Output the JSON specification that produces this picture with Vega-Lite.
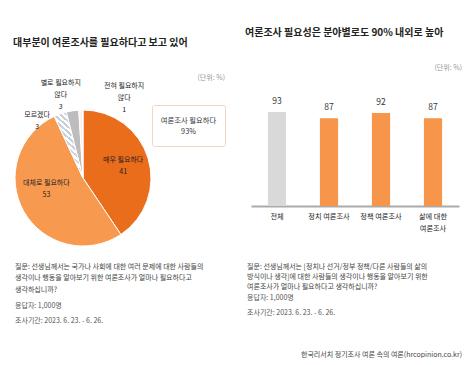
{
  "$schema": "https://vega.github.io/schema/vega-lite/v6.json",
  "background": "white",
  "padding": {"left": 13, "top": 28, "right": 0, "bottom": 0},
  "config": {
    "font": "Noto Sans CJK KR",
    "view": {"stroke": null},
    "title": {"font": "Noto Sans CJK KR", "subtitleFont": "Noto Sans CJK KR"}
  },
  "title": {"text": "한국리서치 정기조사 여론 속의 여론(hrcopinion.co.kr)", "orient": "bottom", "anchor": "end", "fontSize": 7, "fontWeight": "normal", "color": "#444", "offset": 16},
  "spacing": 19,
  "hconcat": [
    {
      "title": {"text": "대부분이 여론조사를 필요하다고 보고 있어", "anchor": "start", "fontSize": 10, "fontWeight": "bold", "color": "#222", "offset": 26},
      "spacing": 11,
      "vconcat": [
        {
          "spacing": 1,
          "bounds": "flush",
          "hconcat": [
            {
              "width": 136,
              "height": 146,
              "data": {"values": [
                {"cat": "매우 필요하다", "value": 41, "order": 1, "label": "매우 필요하다\n41", "line1": "매우 필요하다", "line2": "41", "line3": ""},
                {"cat": "대체로 필요하다", "value": 53, "order": 2, "label": "대체로 필요하다\n53", "line1": "대체로 필요하다", "line2": "53", "line3": ""},
                {"cat": "모르겠다", "value": 3, "order": 3, "label": "모르겠다\n3", "line1": "모르겠다", "line2": "3", "line3": ""},
                {"cat": "별로 필요하지 않다", "value": 3, "order": 4, "label": "별로 필요하지\n않다\n3", "line1": "별로 필요하지", "line2": "않다", "line3": "3"},
                {"cat": "전혀 필요하지 않다", "value": 1, "order": 5, "label": "전혀 필요하지\n않다\n1", "line1": "전혀 필요하지", "line2": "않다", "line3": "1"}
              ]},
              "layer": [
                {
                  "mark": {"type": "arc", "outerRadius": 68, "stroke": "white", "strokeWidth": 1},
                  "encoding": {
                    "theta": {"field": "value", "type": "quantitative", "stack": true, "scale": {"domain": [0, 101]}},
                    "order": {"field": "order", "type": "quantitative"},
                    "color": {"field": "cat", "type": "nominal", "legend": null,
                      "scale": {"domain": ["매우 필요하다", "대체로 필요하다", "모르겠다", "별로 필요하지 않다", "전혀 필요하지 않다"],
                                "range": ["#ea6d1c", "#f79a50", "#e1e5ea", "#bdbdbd", "#f4f4f4"]}}
                  }
                },
                {
                  "mark": {"type": "arc", "outerRadius": 68, "stroke": "white", "strokeWidth": 1,
                    "fill": {"gradient": "linear", "x1": 0, "y1": 1, "x2": 0.38, "y2": 0, "stops": [
                      {"offset": 0, "color": "#ffffff"}, {"offset": 0.0357, "color": "#ffffff"}, {"offset": 0.0357, "color": "#c9d0d9"}, {"offset": 0.0714, "color": "#c9d0d9"},
                      {"offset": 0.0714, "color": "#ffffff"}, {"offset": 0.1071, "color": "#ffffff"}, {"offset": 0.1071, "color": "#c9d0d9"}, {"offset": 0.1429, "color": "#c9d0d9"},
                      {"offset": 0.1429, "color": "#ffffff"}, {"offset": 0.1786, "color": "#ffffff"}, {"offset": 0.1786, "color": "#c9d0d9"}, {"offset": 0.2143, "color": "#c9d0d9"},
                      {"offset": 0.2143, "color": "#ffffff"}, {"offset": 0.25, "color": "#ffffff"}, {"offset": 0.25, "color": "#c9d0d9"}, {"offset": 0.2857, "color": "#c9d0d9"},
                      {"offset": 0.2857, "color": "#ffffff"}, {"offset": 0.3214, "color": "#ffffff"}, {"offset": 0.3214, "color": "#c9d0d9"}, {"offset": 0.3571, "color": "#c9d0d9"},
                      {"offset": 0.3571, "color": "#ffffff"}, {"offset": 0.3929, "color": "#ffffff"}, {"offset": 0.3929, "color": "#c9d0d9"}, {"offset": 0.4286, "color": "#c9d0d9"},
                      {"offset": 0.4286, "color": "#ffffff"}, {"offset": 0.4643, "color": "#ffffff"}, {"offset": 0.4643, "color": "#c9d0d9"}, {"offset": 0.5, "color": "#c9d0d9"},
                      {"offset": 0.5, "color": "#ffffff"}, {"offset": 0.5357, "color": "#ffffff"}, {"offset": 0.5357, "color": "#c9d0d9"}, {"offset": 0.5714, "color": "#c9d0d9"},
                      {"offset": 0.5714, "color": "#ffffff"}, {"offset": 0.6071, "color": "#ffffff"}, {"offset": 0.6071, "color": "#c9d0d9"}, {"offset": 0.6429, "color": "#c9d0d9"},
                      {"offset": 0.6429, "color": "#ffffff"}, {"offset": 0.6786, "color": "#ffffff"}, {"offset": 0.6786, "color": "#c9d0d9"}, {"offset": 0.7143, "color": "#c9d0d9"},
                      {"offset": 0.7143, "color": "#ffffff"}, {"offset": 0.75, "color": "#ffffff"}, {"offset": 0.75, "color": "#c9d0d9"}, {"offset": 0.7857, "color": "#c9d0d9"},
                      {"offset": 0.7857, "color": "#ffffff"}, {"offset": 0.8214, "color": "#ffffff"}, {"offset": 0.8214, "color": "#c9d0d9"}, {"offset": 0.8571, "color": "#c9d0d9"},
                      {"offset": 0.8571, "color": "#ffffff"}, {"offset": 0.8929, "color": "#ffffff"}, {"offset": 0.8929, "color": "#c9d0d9"}, {"offset": 0.9286, "color": "#c9d0d9"},
                      {"offset": 0.9286, "color": "#ffffff"}, {"offset": 0.9643, "color": "#ffffff"}, {"offset": 0.9643, "color": "#c9d0d9"}, {"offset": 1, "color": "#c9d0d9"}
                    ]}},
                  "encoding": {
                    "theta": {"field": "value", "type": "quantitative", "stack": true, "scale": {"domain": [0, 101]}},
                    "order": {"field": "order", "type": "quantitative"},
                    "opacity": {"condition": {"test": "datum.cat === '모르겠다'", "value": 1}, "value": 0}
                  }
                },
                {
                  "mark": {"type": "text", "radius": 42, "dy": -6, "fontSize": 7, "lineBreak": "\n", "lineHeight": 12, "fill": "#222"},
                  "encoding": {
                    "theta": {"field": "value", "type": "quantitative", "stack": true, "scale": {"domain": [0, 101]}},
                    "order": {"field": "order", "type": "quantitative"},
                    "text": {"field": "label", "type": "nominal", "condition": {"test": "datum.cat !== '매우 필요하다'", "value": ""}}
                  }
                },
                {
                  "mark": {"type": "text", "radius": 42, "dy": -16, "fontSize": 7, "lineBreak": "\n", "lineHeight": 12, "fill": "#222"},
                  "encoding": {
                    "theta": {"field": "value", "type": "quantitative", "stack": true, "scale": {"domain": [0, 101]}},
                    "order": {"field": "order", "type": "quantitative"},
                    "text": {"field": "label", "type": "nominal", "condition": {"test": "datum.cat !== '대체로 필요하다'", "value": ""}}
                  }
                },
                {
                  "transform": [
                    {"stack": "value", "groupby": [], "sort": [{"field": "order", "order": "ascending"}], "as": ["v0", "v1"]},
                    {"filter": "datum.cat === '모르겠다'"}
                  ],
                  "encoding": {"theta": {"field": "v0", "type": "quantitative", "scale": {"domain": [0, 101]}}},
                  "layer": [
                    {"mark": {"type": "text", "radius": 78, "dx": -13, "dy": 8, "fontSize": 7, "fill": "#222"}, "encoding": {"text": {"field": "line1", "type": "nominal"}}},
                    {"mark": {"type": "text", "radius": 78, "dx": -13, "dy": 20, "fontSize": 7, "fill": "#222"}, "encoding": {"text": {"field": "line2", "type": "nominal"}}}
                  ]
                },
                {
                  "transform": [
                    {"stack": "value", "groupby": [], "sort": [{"field": "order", "order": "ascending"}], "as": ["v0", "v1"]},
                    {"filter": "datum.cat === '별로 필요하지 않다'"}
                  ],
                  "encoding": {"theta": {"field": "v0", "type": "quantitative", "scale": {"domain": [0, 101]}}},
                  "layer": [
                    {"mark": {"type": "text", "radius": 78, "dx": -3, "dy": -19, "fontSize": 7, "fill": "#222"}, "encoding": {"text": {"field": "line1", "type": "nominal"}}},
                    {"mark": {"type": "text", "radius": 78, "dx": -3, "dy": -7, "fontSize": 7, "fill": "#222"}, "encoding": {"text": {"field": "line2", "type": "nominal"}}},
                    {"mark": {"type": "text", "radius": 78, "dx": -3, "dy": 5, "fontSize": 7, "fill": "#222"}, "encoding": {"text": {"field": "line3", "type": "nominal"}}}
                  ]
                },
                {
                  "transform": [
                    {"stack": "value", "groupby": [], "sort": [{"field": "order", "order": "ascending"}], "as": ["v0", "v1"]},
                    {"filter": "datum.cat === '전혀 필요하지 않다'"}
                  ],
                  "encoding": {"theta": {"field": "v0", "type": "quantitative", "scale": {"domain": [0, 101]}}},
                  "layer": [
                    {"mark": {"type": "text", "radius": 78, "dx": 46, "dy": -14, "fontSize": 7, "fill": "#222"}, "encoding": {"text": {"field": "line1", "type": "nominal"}}},
                    {"mark": {"type": "text", "radius": 78, "dx": 46, "dy": -2, "fontSize": 7, "fill": "#222"}, "encoding": {"text": {"field": "line2", "type": "nominal"}}},
                    {"mark": {"type": "text", "radius": 78, "dx": 46, "dy": 10, "fontSize": 7, "fill": "#222"}, "encoding": {"text": {"field": "line3", "type": "nominal"}}}
                  ]
                }
              ]
            },
            {
              "width": 73,
              "height": 41,
              "view": {"stroke": "#f5d3bc", "strokeWidth": 1, "cornerRadius": 2, "fill": "white"},
              "title": {"text": "(단위: %)", "anchor": "end", "offset": 24, "fontSize": 7, "fontWeight": "normal", "color": "#999"},
              "data": {"values": [{"cat": "여론조사 필요하다", "value": 93, "label": "여론조사 필요하다\n93%"}]},
              "mark": {"type": "text", "fontSize": 7.3, "lineBreak": "\n", "lineHeight": 11, "dy": -5, "fill": "#333"},
              "encoding": {"text": {"field": "label", "type": "nominal"}}
            }
          ]
        },
        {
          "width": 200,
          "height": 1,
          "data": {"values": [{"note": ""}]},
          "mark": {"type": "text"},
          "encoding": {"text": {"field": "note", "type": "nominal"}},
          "title": {
            "text": ["질문: 선생님께서는 국가나 사회에 대한 여러 문제에 대한 사람들의", "　　  생각이나 행동을 알아보기 위한 여론조사가 얼마나 필요하다고", "　　  생각하십니까?"],
            "subtitle": ["응답자: 1,000명", "조사기간: 2023. 6. 23. - 6. 26."],
            "anchor": "start", "fontSize": 7, "fontWeight": "normal", "color": "#444", "lineHeight": 11.5,
            "subtitleFontSize": 7, "subtitleColor": "#555", "subtitleLineHeight": 15, "subtitlePadding": 9, "offset": 0
          }
        }
      ]
    },
    {
      "title": {"text": "여론조사 필요성은 분야별로도 90% 내외로 높아", "anchor": "start", "fontSize": 10, "fontWeight": "bold", "color": "#222", "offset": 26, "dx": -2},
      "spacing": 30,
      "vconcat": [
        {
          "bounds": "flush",
          "hconcat": [
            {
              "width": 208,
              "height": 101,
              "title": {"text": "(단위: %)", "anchor": "end", "offset": 26, "dx": 3, "fontSize": 7, "fontWeight": "normal", "color": "#999"},
              "data": {"values": [
                {"cat": "전체", "value": 93},
                {"cat": "정치 여론조사", "value": 87},
                {"cat": "정책 여론조사", "value": 92},
                {"cat": "삶에 대한 여론조사", "value": 87}
              ]},
              "encoding": {
                "x": {"field": "cat", "type": "nominal", "sort": null,
                  "scale": {"paddingInner": 0, "paddingOuter": 0},
                  "axis": {"title": null, "domainColor": "#aaa", "domainWidth": 2, "ticks": false, "labelAngle": 0,
                    "labelFontSize": 7.2, "labelColor": "#222", "labelPadding": 6, "labelLineHeight": 12.5,
                    "labelExpr": "datum.value === '삶에 대한 여론조사' ? ['삶에 대한', '여론조사'] : datum.label"}},
                "y": {"field": "value", "type": "quantitative", "scale": {"domain": [0, 100]}, "axis": null}
              },
              "layer": [
                {
                  "mark": {"type": "bar", "width": {"band": 0.35}},
                  "encoding": {"color": {"condition": {"test": "datum.cat === '전체'", "value": "#d9d9d9"}, "value": "#f7964a"}}
                },
                {
                  "mark": {"type": "text", "dy": -11, "fontSize": 8.5, "fill": "#333"},
                  "encoding": {"text": {"field": "value", "type": "quantitative"}}
                }
              ]
            }
          ]
        },
        {
          "width": 200,
          "height": 1,
          "data": {"values": [{"note": ""}]},
          "mark": {"type": "text"},
          "encoding": {"text": {"field": "note", "type": "nominal"}},
          "title": {
            "text": ["질문: 선생님께서는 [정치나 선거/정부 정책/다른 사람들의 삶의", "　　  방식이나 생각]에 대한 사람들의 생각이나 행동을 알아보기 위한", "　　  여론조사가 얼마나 필요하다고 생각하십니까?"],
            "subtitle": ["응답자: 1,000명", "조사기간: 2023. 6. 23. - 6. 26."],
            "anchor": "start", "fontSize": 7, "fontWeight": "normal", "color": "#444", "lineHeight": 10, "dx": -4,
            "subtitleFontSize": 7, "subtitleColor": "#555", "subtitleLineHeight": 15, "subtitlePadding": 4, "offset": 0
          }
        }
      ]
    }
  ]
}
